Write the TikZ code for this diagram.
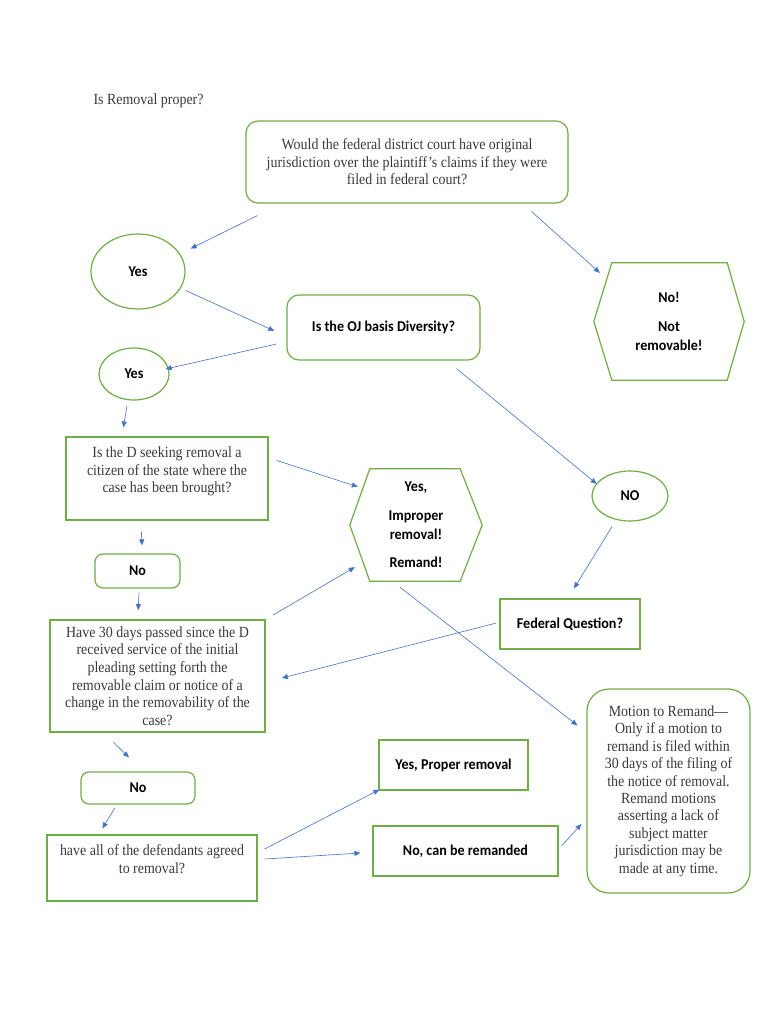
\documentclass[tikz,border=0pt]{standalone}
\usepackage{fontspec}
\setmainfont[FakeStretch=0.9]{Liberation Serif}
\newfontfamily\calibri[FakeStretch=0.94]{Carlito}
\usetikzlibrary{arrows.meta,shapes.geometric}
\definecolor{boxgreen}{HTML}{70AD47}
\definecolor{arrblue}{HTML}{4472C4}
\definecolor{txtgray}{HTML}{3A3A3A}
\tikzset{
	sertext/.style={font=\fontsize{15.5}{17.6}\selectfont, text=txtgray, align=center},
	boldtext/.style={font=\calibri\bfseries\fontsize{15}{19}\selectfont, align=center},
	sqbox/.style={draw=boxgreen, line width=1.2pt, inner sep=0pt},
	rbox/.style={sqbox, rounded corners=12pt},
	ovalnode/.style={ellipse, draw=boxgreen, line width=1.2pt, inner sep=0pt},
	hexbox/.style={inner sep=0pt},
	hexline/.style={draw=boxgreen, line width=1.2pt},
	arr/.style={-{Triangle[length=6pt,width=5pt]}, arrblue, line width=0.6pt}
}
\begin{document}
\begin{tikzpicture}[x=1pt,y=-1pt]
	\fill [white] (0,0) rectangle (768,1024);
	\useasboundingbox (0,0) rectangle (768,1024);

	\node [sertext, anchor=west] (title) at (90,101) {Is Removal proper?};

	% first question
	\node [rbox, sertext, minimum width=322pt, minimum height=82pt] (jur) at (407,162) {Would the federal district court have original\\jurisdiction over the plaintiff’s claims if they were\\filed in federal court?};
	\node [ovalnode, boldtext, minimum width=94pt, minimum height=75pt] (yes1) at (138,271.5) {Yes};
	\node [hexbox, boldtext, minimum width=150pt, minimum height=117pt] (notrem) at (669,321.5) {No!\\[10pt]Not\\removable!};
	\draw [hexline] (notrem.west) -- ([xshift=18pt]notrem.north west) -- ([xshift=-17pt]notrem.north east) -- (notrem.east) -- ([xshift=-17pt]notrem.south east) -- ([xshift=18pt]notrem.south west) -- cycle;

	% diversity branch
	\node [rbox, boldtext, minimum width=193pt, minimum height=65pt] (oj) at (383.5,327.5) {Is the OJ basis Diversity?};
	\node [ovalnode, boldtext, minimum width=70pt, minimum height=52pt] (yes2) at (134,374) {Yes};
	\node [sqbox, sertext, minimum width=202pt, minimum height=83pt] (citizen) at (167,478.5) {Is the D seeking removal a\\citizen of the state where the\\case has been brought?\\\mbox{}};
	\node [hexbox, boldtext, minimum width=132pt, minimum height=112pt] (improper) at (416,525) {Yes,\\[10pt]Improper\\removal!\\[9pt]Remand!};
	\draw [hexline] (improper.west) -- ([xshift=20pt]improper.north west) -- ([xshift=-22pt]improper.north east) -- (improper.east) -- ([xshift=-22pt]improper.south east) -- ([xshift=20pt]improper.south west) -- cycle;
	\node [ovalnode, boldtext, minimum width=76pt, minimum height=50pt] (no3) at (630,496) {NO};
	\node [rbox, boldtext, rounded corners=8pt, minimum width=85pt, minimum height=34pt] (no1) at (137.5,571) {No};
	\node [sqbox, boldtext, minimum width=140pt, minimum height=50pt] (fedq) at (570,624) {Federal Question?};
	\node [sqbox, sertext, line width=1.8pt, minimum width=215pt, minimum height=112pt] (thirty) at (157.5,676) {Have 30 days passed since the D\\received service of the initial\\pleading setting forth the\\removable claim or notice of a\\change in the removability of the\\case?};
	\node [rbox, sertext, font=\fontsize{15.5}{17.4}\selectfont, rounded corners=22pt, minimum width=163pt, minimum height=204pt] (motion) at (668.5,791) {Motion to Remand—\\Only if a motion to\\remand is filed within\\30 days of the filing of\\the notice of removal.\\Remand motions\\asserting a lack of\\subject matter\\jurisdiction may be\\made at any time.};
	\node [sqbox, boldtext, minimum width=149pt, minimum height=50pt] (proper) at (453.5,765) {Yes, Proper removal};
	\node [rbox, boldtext, rounded corners=8pt, minimum width=114pt, minimum height=32pt] (no2) at (138,788) {No};
	\node [sqbox, boldtext, minimum width=185pt, minimum height=50pt] (remanded) at (465.5,851) {No, can be remanded};
	\node [sqbox, sertext, minimum width=210pt, minimum height=66pt] (agreed) at (152,868) {have all of the defendants agreed\\to removal?\\\mbox{}};

	% arrows
	\draw [arr] ([shift={(12,12)}]jur.south west) -- ([shift={(19,4)}]yes1.north east);
	\draw [arr] ([shift={(-37,8)}]jur.south east) -- ([shift={(6,10)}]notrem.north west);
	\draw [arr] ([shift={(14,-8)}]yes1.south east) -- ([shift={(-12,3.5)}]oj.west);
	\draw [arr] ([shift={(-10,16.5)}]oj.west) -- ([shift={(-4,-5)}]yes2.east);
	\draw [arr] ([shift={(-24,8)}]oj.south east) -- ([shift={(-6,6)}]no3.north west);
	\draw [arr] ([shift={(-7,5)}]yes2.south) -- ([shift={(58,-9)}]citizen.north west);
	\draw [arr] ([shift={(8,24)}]citizen.north east) -- ([shift={(8,18)}]improper.north west);
	\draw [arr] ([shift={(76,11)}]citizen.south west) -- ([shift={(4.5,-8)}]no1.north);
	\draw [arr] ([shift={(1.5,4)}]no1.south) -- ([shift={(89,-9)}]thirty.north west);
	\draw [arr] ([shift={(7,-4)}]thirty.north east) -- ([shift={(5,-14)}]improper.south west);
	\draw [arr] ([shift={(-18,5)}]no3.south) -- ([shift={(4,-10)}]fedq.north);
	\draw [arr] ([shift={(-3,-1)}]fedq.west) -- ([shift={(16,2)}]thirty.east);
	\draw [arr] ([shift={(-16,6)}]improper.south) -- ([shift={(-9,37)}]motion.north west);
	\draw [arr] ([shift={(64,9)}]thirty.south west) -- ([shift={(-9,-14)}]no2.north);
	\draw [arr] ([shift={(-23,3)}]no2.south) -- ([shift={(56,-6)}]agreed.north west);
	\draw [arr] ([shift={(7,-19)}]agreed.east) -- ([shift={(1,-1)}]proper.south west);
	\draw [arr] ([shift={(7,-9)}]agreed.east) -- ([shift={(-12,2)}]remanded.west);
	\draw [arr] ([shift={(3,-5)}]remanded.east) -- ([shift={(-5,33)}]motion.west);
\end{tikzpicture}
\end{document}
